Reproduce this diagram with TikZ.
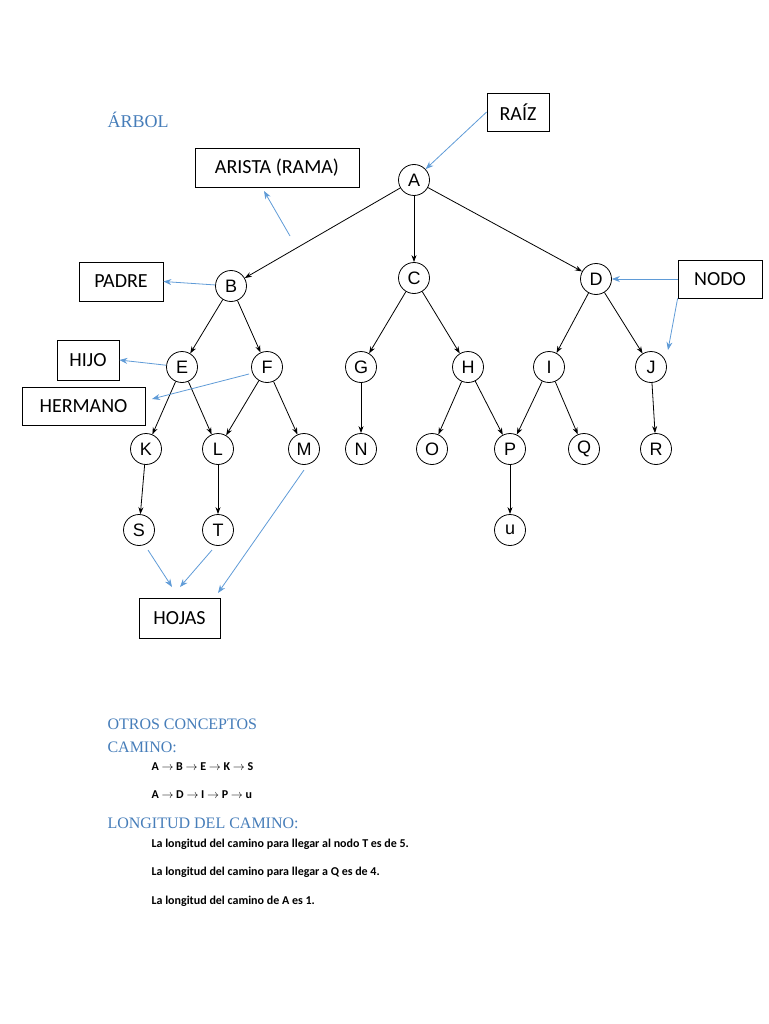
\documentclass[tikz,border=0pt]{standalone}
\usepackage{fontspec}
\setmainfont{Carlito}
\newfontfamily\arialf{Liberation Sans}
\newfontfamily\serf{Liberation Serif}
\usetikzlibrary{arrows.meta}
\definecolor{hblue}{RGB}{70,125,185}
\definecolor{ablue}{RGB}{95,155,215}
\tikzset{
 tn/.style={circle,draw,thick,minimum size=31pt,inner sep=0pt,font=\arialf\fontsize{18}{18}\selectfont},
 lbox/.style={draw,thick,inner sep=0pt,font=\fontsize{20}{20}\selectfont},
 te/.style={-{Stealth[length=7pt,width=5pt]},thick},
 be/.style={-{Stealth[length=8pt,width=6pt]},ablue,thick},
 hd/.style={anchor=west,text=hblue,font=\serf\fontsize{16}{16}\selectfont},
 tx/.style={anchor=west,font=\bfseries\fontsize{12}{12}\selectfont},
}
\begin{document}
\begin{tikzpicture}[x=1pt,y=-1pt]
\useasboundingbox (0,0) rectangle (768,1024);
\foreach \n/\x/\y in {A/414/180,B/231/286,C/414/278,D/596/279,E/182/367,F/267/367,G/361/367,H/468/367,I/549/367,J/651/367,K/146/449,L/218/449,M/304/449,N/361/449,O/432/449,P/510/449,Q/584/449,R/656/449,S/139/530,T/218/530}
  \node[tn] (\n) at (\x,\y) {\n};
\node[tn] (u) at (510,530) {u};
\foreach \a/\b in {A/B,A/C,A/D,B/E,B/F,C/G,C/H,D/I,D/J,E/K,E/L,F/L,F/M,G/N,H/O,H/P,I/P,I/Q,J/R,K/S,L/T,P/u}
  \draw[te] (\a) -- (\b);
\node[lbox,minimum width=62pt,minimum height=38pt] (raiz) at (518,112) {RAÍZ};
\node[lbox,minimum width=164pt,minimum height=39pt] (arista) at (277,167.5) {ARISTA (RAMA)};
\node[lbox,minimum width=84pt,minimum height=39pt] (padre) at (121,281.5) {PADRE};
\node[lbox,minimum width=62pt,minimum height=40pt] (hijo) at (88,360) {HIJO};
\node[lbox,minimum width=123pt,minimum height=38pt] (herm) at (83.5,406) {HERMANO};
\node[lbox,minimum width=84pt,minimum height=38pt] (nodo) at (720,279) {NODO};
\node[lbox,minimum width=81pt,minimum height=40pt] (hojas) at (179.5,618) {HOJAS};
\coordinate (ar0) at (290,236);
\coordinate (ar1) at (264,191);
\coordinate (he0) at (249,374);
\coordinate (he1) at (152,399);
\coordinate (ho1) at (172,587);
\coordinate (ho2) at (180,587);
\coordinate (ho3) at (218,593);
\coordinate (s0) at (148,550);
\coordinate (t0) at (212,550);
\coordinate (m0) at (304,470);
\coordinate (j1) at (668,350);
\draw[be] (raiz.west) -- (A);
\draw[be] (ar0) -- (ar1);
\draw[be] (B) -- (padre.east);
\draw[be] (E) -- (hijo.east);
\draw[be] (he0) -- (he1);
\draw[be] (nodo.west) -- (D);
\draw[be] (nodo.south west) -- (j1);
\draw[be] (s0) -- (ho1);
\draw[be] (t0) -- (ho2);
\draw[be] (m0) -- (ho3);
\node[hd,font=\serf\fontsize{18}{18}\selectfont] (t1) at (104,120) {ÁRBOL};
\node[hd] (t2) at (104,724) {OTROS CONCEPTOS};
\node[hd] (t3) at (104,747) {CAMINO:};
\node[tx] (t4) at (148,767) {A $\rightarrow$ B $\rightarrow$ E $\rightarrow$ K $\rightarrow$ S};
\node[tx] (t5) at (148,795) {A $\rightarrow$ D $\rightarrow$ I $\rightarrow$ P $\rightarrow$ u};
\node[hd] (t6) at (104,823) {LONGITUD DEL CAMINO:};
\node[tx] (t7) at (148,844) {La longitud del camino para llegar al nodo T es de 5.};
\node[tx] (t8) at (148,872) {La longitud del camino para llegar a Q es de 4.};
\node[tx] (t9) at (148,901) {La longitud del camino de A es 1.};
\end{tikzpicture}
\end{document}
